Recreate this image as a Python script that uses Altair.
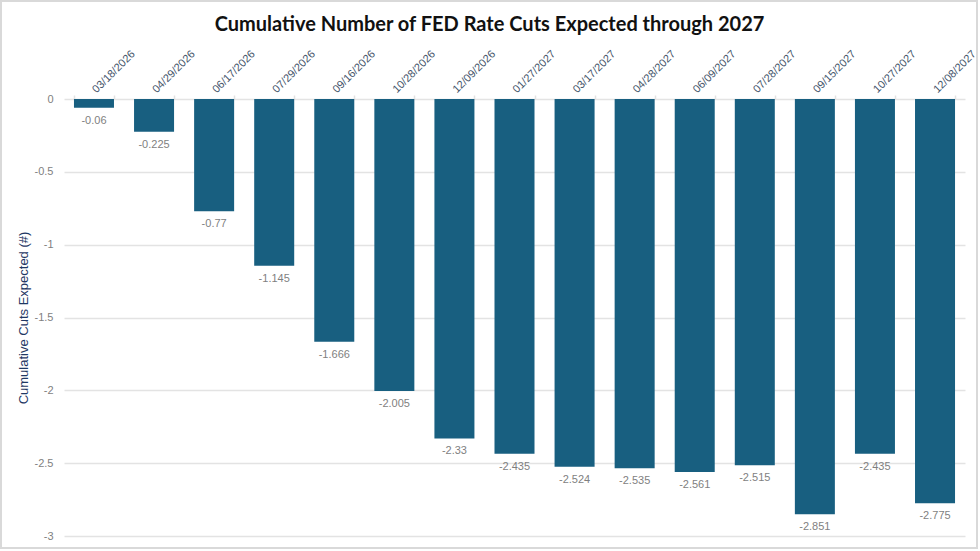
import altair as alt
import pandas as pd

dates = ["03/18/2026", "04/29/2026", "06/17/2026", "07/29/2026", "09/16/2026",
         "10/28/2026", "12/09/2026", "01/27/2027", "03/17/2027", "04/28/2027",
         "06/09/2027", "07/28/2027", "09/15/2027", "10/27/2027", "12/08/2027"]
cuts = [-0.06, -0.225, -0.77, -1.145, -1.666, -2.005, -2.33, -2.435, -2.524,
        -2.535, -2.561, -2.515, -2.851, -2.435, -2.775]
y_ticks = [0, -0.5, -1, -1.5, -2, -2.5, -3]

df = pd.DataFrame({"date": dates, "cuts": cuts, "label": [str(v) for v in cuts]})

W, H = 901, 437

x = alt.X("date:N", sort=dates, title=None,
          scale=alt.Scale(paddingInner=0.334, paddingOuter=0.166),
          axis=alt.Axis(orient="top", labelAngle=-45, labelAlign="left",
                        labelBaseline="middle", labelFontSize=11, labelColor="#44546a",
                        labelFont="Liberation Sans", ticks=True, tickBand="extent",
                        tickSize=4, tickColor="#e3e3e3", tickWidth=1.5, domain=False,
                        labelPadding=4))
y = alt.Y("cuts:Q", title="Cumulative Cuts Expected (#)",
          scale=alt.Scale(domain=[-3, 0], nice=False),
          axis=alt.Axis(values=y_ticks, labelExpr="'' + datum.value", labelColor="#7f7f7f",
                        labelFontSize=11, labelFont="Liberation Sans", ticks=False,
                        domain=False, gridColor="#e3e3e3", gridWidth=1.5,
                        titleColor="#1f3864", titleFontSize=13, titleFont="Liberation Sans",
                        titleFontWeight="normal", titlePadding=4, labelPadding=11))

bars = alt.Chart(df).mark_bar(color="#185f80").encode(x=x, y=y)
labels = alt.Chart(df).mark_text(baseline="top", dy=7, fontSize=11, color="#7f7f7f",
                                 font="Liberation Sans").encode(x=x, y=y, text="label:N")
frame = alt.Chart(df).mark_rect(fill=None, stroke="#d9d9d9", strokeWidth=1.5).encode(
    x=alt.value(-63), x2=alt.value(913), y=alt.value(-98), y2=alt.value(449))

chart = alt.layer(frame, bars, labels).properties(
    width=W, height=H,
    title=alt.TitleParams("Cumulative Number of FED Rate Cuts Expected through 2027",
                          fontSize=20, font="Lato", fontWeight="bold", color="#111111",
                          anchor="middle", offset=0, dy=35, dx=-25),
    padding={"left": 64, "top": 99, "right": 15, "bottom": 15},
    autosize=alt.AutoSizeParams(type="none"),
).configure_view(stroke=None)

chart.save("out.html", embed_options={"renderer": "svg", "actions": False})
